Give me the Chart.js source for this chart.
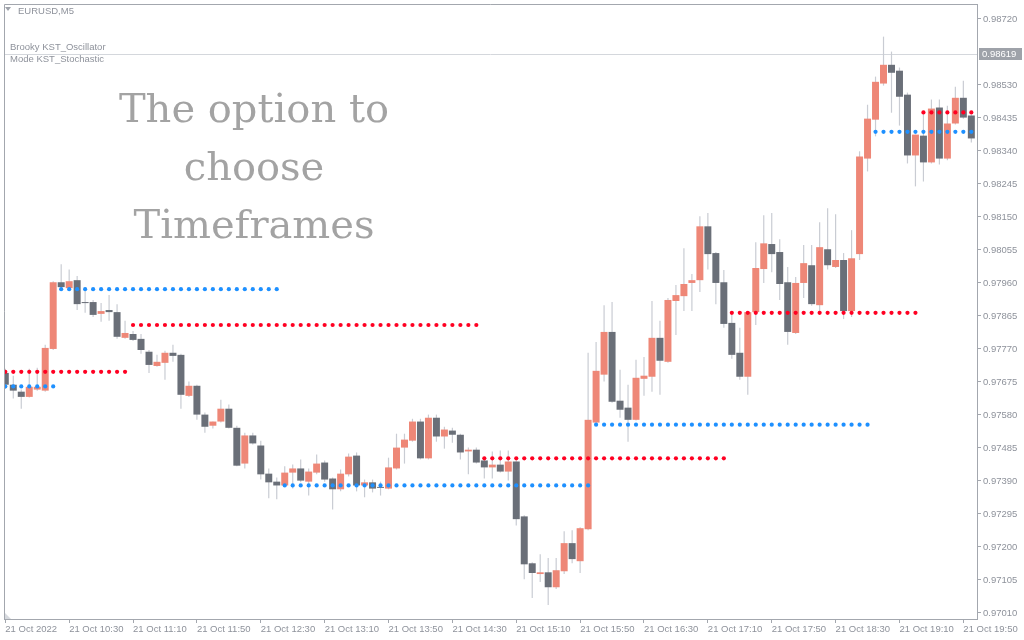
<!DOCTYPE html>
<html>
<head>
<meta charset="utf-8">
<title>EURUSD,M5</title>
<script src="https://cdn.jsdelivr.net/npm/chart.js@4.4.0/dist/chart.umd.min.js"></script>
<style>
  html, body { margin: 0; padding: 0; background: #ffffff; }
  #wrap { position: relative; width: 1024px; height: 640px; overflow: hidden; }
  #chart { position: absolute; left: 0; top: 0; }
  .lbl { position: absolute; font-family: "Liberation Sans", Arial, sans-serif; font-size: 9.5px; line-height: 11px; color: #8e929b; white-space: nowrap; }
  .tri { position: absolute; left: 5px; top: 7px; width: 0; height: 0; border-left: 3px solid transparent; border-right: 3px solid transparent; border-top: 4px solid #9ea2aa; }
  #headline { position: absolute; left: 54px; top: 79px; width: 400px; text-align: center; font-family: "DejaVu Serif", serif; font-size: 40px; line-height: 58px; color: #a3a3a3; }
</style>
</head>
<body>
<div id="wrap">
  <canvas id="chart" width="1024" height="640"></canvas>
  <div class="tri"></div>
  <div class="lbl" style="left:18px;top:5px">EURUSD,M5</div>
  <div class="lbl" style="left:10px;top:41px">Brooky KST_Oscillator</div>
  <div class="lbl" style="left:10px;top:53px">Mode KST_Stochastic</div>
  <div id="headline">The option to<br>choose<br>Timeframes</div>
</div>
<script>
// 5-minute candles, 21 Oct 09:50 .. 19:55
const openPrices = [
  0.97701, 0.97667, 0.97647, 0.97632, 0.97653, 0.97650, 0.97770, 0.97962, 0.97945, 0.97968,
  0.97905, 0.97905, 0.97871, 0.97882, 0.97876, 0.97802, 0.97813, 0.97799, 0.97762, 0.97721,
  0.97730, 0.97759, 0.97753, 0.97635, 0.97664, 0.97581, 0.97549, 0.97561, 0.97598, 0.97543,
  0.97440, 0.97521, 0.97492, 0.97411, 0.97388, 0.97377, 0.97414, 0.97426, 0.97388, 0.97414,
  0.97443, 0.97397, 0.97366, 0.97409, 0.97463, 0.97377, 0.97386, 0.97371, 0.97368, 0.97426,
  0.97486, 0.97506, 0.97561, 0.97455, 0.97572, 0.97518, 0.97535, 0.97523, 0.97475, 0.97480,
  0.97449, 0.97429, 0.97437, 0.97417, 0.97446, 0.97288, 0.97153, 0.97122, 0.97127, 0.97084,
  0.97130, 0.97211, 0.97159, 0.97251, 0.97558, 0.97696, 0.97819, 0.97621, 0.97601, 0.97566,
  0.97684, 0.97690, 0.97802, 0.97733, 0.97908, 0.97922, 0.97960, 0.97968, 0.98123, 0.98046,
  0.97962, 0.97845, 0.97759, 0.97690, 0.97876, 0.98000, 0.98072, 0.98049, 0.97962, 0.97816,
  0.97960, 0.98011, 0.97896, 0.98057, 0.98006, 0.98026, 0.97879, 0.98043, 0.98318, 0.98430,
  0.98534, 0.98588, 0.98571, 0.98502, 0.98327, 0.98384, 0.98307, 0.98465, 0.98318, 0.98419,
  0.98493, 0.98442
];
const highPrices = [
  0.97713, 0.97693, 0.97653, 0.97713, 0.97716, 0.97782, 0.97965, 0.98014, 0.97999, 0.97980,
  0.97948, 0.97911, 0.97902, 0.97925, 0.97899, 0.97851, 0.97822, 0.97813, 0.97767, 0.97753,
  0.97765, 0.97782, 0.97756, 0.97676, 0.97667, 0.97587, 0.97561, 0.97624, 0.97610, 0.97549,
  0.97529, 0.97529, 0.97506, 0.97426, 0.97400, 0.97432, 0.97437, 0.97452, 0.97426, 0.97466,
  0.97449, 0.97400, 0.97423, 0.97469, 0.97472, 0.97394, 0.97394, 0.97388, 0.97457, 0.97526,
  0.97526, 0.97569, 0.97569, 0.97581, 0.97581, 0.97546, 0.97543, 0.97526, 0.97486, 0.97486,
  0.97460, 0.97475, 0.97478, 0.97478, 0.97449, 0.97291, 0.97156, 0.97179, 0.97168, 0.97168,
  0.97245, 0.97248, 0.97257, 0.97759, 0.97790, 0.97896, 0.97905, 0.97710, 0.97667, 0.97739,
  0.97747, 0.97908, 0.97851, 0.97917, 0.97954, 0.98060, 0.97986, 0.98152, 0.98161, 0.98049,
  0.97997, 0.97874, 0.97831, 0.97876, 0.98077, 0.98155, 0.98161, 0.98086, 0.98006, 0.97977,
  0.98069, 0.98069, 0.98135, 0.98175, 0.98158, 0.98046, 0.98112, 0.98339, 0.98473, 0.98554,
  0.98669, 0.98626, 0.98580, 0.98508, 0.98387, 0.98453, 0.98488, 0.98488, 0.98470, 0.98525,
  0.98542, 0.98445
];
const lowPrices = [
  0.97655, 0.97627, 0.97598, 0.97630, 0.97650, 0.97647, 0.97767, 0.97937, 0.97937, 0.97882,
  0.97874, 0.97862, 0.97848, 0.97851, 0.97799, 0.97799, 0.97793, 0.97756, 0.97701, 0.97719,
  0.97681, 0.97733, 0.97598, 0.97632, 0.97566, 0.97529, 0.97541, 0.97558, 0.97541, 0.97432,
  0.97426, 0.97495, 0.97394, 0.97340, 0.97337, 0.97374, 0.97368, 0.97386, 0.97348, 0.97409,
  0.97388, 0.97308, 0.97360, 0.97403, 0.97360, 0.97343, 0.97357, 0.97348, 0.97366, 0.97423,
  0.97440, 0.97503, 0.97452, 0.97452, 0.97503, 0.97483, 0.97500, 0.97452, 0.97409, 0.97440,
  0.97397, 0.97397, 0.97414, 0.97391, 0.97262, 0.97107, 0.97053, 0.97099, 0.97033, 0.97079,
  0.97122, 0.97153, 0.97125, 0.97248, 0.97555, 0.97676, 0.97615, 0.97572, 0.97503, 0.97564,
  0.97635, 0.97647, 0.97638, 0.97730, 0.97810, 0.97879, 0.97879, 0.97934, 0.97999, 0.97899,
  0.97831, 0.97742, 0.97681, 0.97638, 0.97839, 0.97960, 0.97991, 0.97911, 0.97782, 0.97813,
  0.97917, 0.97894, 0.97879, 0.97999, 0.98003, 0.97856, 0.97862, 0.98026, 0.98281, 0.98382,
  0.98528, 0.98450, 0.98413, 0.98304, 0.98238, 0.98252, 0.98304, 0.98301, 0.98313, 0.98416,
  0.98433, 0.98364
];
const closePrices = [
  0.97667, 0.97650, 0.97632, 0.97661, 0.97661, 0.97773, 0.97962, 0.97948, 0.97965, 0.97899,
  0.97902, 0.97868, 0.97879, 0.97876, 0.97805, 0.97816, 0.97796, 0.97767, 0.97724, 0.97733,
  0.97759, 0.97750, 0.97638, 0.97664, 0.97581, 0.97546, 0.97561, 0.97598, 0.97543, 0.97434,
  0.97521, 0.97498, 0.97409, 0.97386, 0.97377, 0.97414, 0.97426, 0.97391, 0.97417, 0.97440,
  0.97394, 0.97366, 0.97411, 0.97460, 0.97377, 0.97386, 0.97368, 0.97370, 0.97429, 0.97486,
  0.97509, 0.97561, 0.97455, 0.97572, 0.97518, 0.97538, 0.97523, 0.97472, 0.97480, 0.97443,
  0.97429, 0.97437, 0.97417, 0.97446, 0.97280, 0.97150, 0.97125, 0.97127, 0.97084, 0.97133,
  0.97211, 0.97165, 0.97254, 0.97566, 0.97707, 0.97819, 0.97618, 0.97595, 0.97566, 0.97687,
  0.97693, 0.97802, 0.97736, 0.97911, 0.97925, 0.97957, 0.97968, 0.98123, 0.98043, 0.97960,
  0.97842, 0.97753, 0.97690, 0.97876, 0.98003, 0.98074, 0.98043, 0.97957, 0.97819, 0.97960,
  0.98017, 0.97899, 0.98063, 0.98011, 0.98026, 0.97879, 0.98031, 0.98324, 0.98433, 0.98539,
  0.98588, 0.98565, 0.98496, 0.98327, 0.98387, 0.98307, 0.98462, 0.98318, 0.98419, 0.98493,
  0.98436, 0.98376
];

// indicator levels: [first candle, last candle, price]
const redLevels = [[0, 15, 0.97704], [16, 59, 0.97839], [60, 90, 0.97455], [91, 114, 0.97874], [115, 121, 0.98451]];
const blueLevels = [[0, 6, 0.97662], [7, 34, 0.97942], [35, 73, 0.97377], [74, 108, 0.97552], [109, 121, 0.98395]];

const bidPrice = 0.98619;

// axis labels
const xTickLabels = ['21 Oct 2022', '21 Oct 10:30', '21 Oct 11:10', '21 Oct 11:50', '21 Oct 12:30', '21 Oct 13:10',
  '21 Oct 13:50', '21 Oct 14:30', '21 Oct 15:10', '21 Oct 15:50', '21 Oct 16:30', '21 Oct 17:10',
  '21 Oct 17:50', '21 Oct 18:30', '21 Oct 19:10', '21 Oct 19:50'];
const xTickStep = 8; // candles between time labels
const yTickValues = [0.98720, 0.98530, 0.98435, 0.98340, 0.98245, 0.98150, 0.98055, 0.97960, 0.97865,
  0.97770, 0.97675, 0.97580, 0.97485, 0.97390, 0.97295, 0.97200, 0.97105, 0.97010];

const bullColor = '#ee8777';
const bearColor = '#6a6f78';
const wickColor = '#c9ccd3';
const axisColor = '#a3a7ae';
const textColor = '#8e929b';

// build chart data from the arrays above
const wickData = highPrices.map((h, i) => ({ x: i, y: [lowPrices[i], h] }));
const bodyData = openPrices.map((o, i) => ({ x: i, y: [o, closePrices[i]] }));
const bodyColors = openPrices.map((o, i) => closePrices[i] >= o ? bullColor : bearColor);

function levelPoints(levels) {
    const pts = [];
    levels.forEach(([from, to, price]) => {
        for (let k = from; k <= to; k++) pts.push({ x: k, y: price });
    });
    return pts;
}

// frame, bid line and price box
const framePlugin = {
    id: 'frame',
    beforeDatasetsDraw(chart) {
        const { ctx, chartArea: a, scales: { y } } = chart;
        const by = Math.round(y.getPixelForValue(bidPrice)) + 0.5;
        ctx.save();
        ctx.strokeStyle = '#d4d7dc';
        ctx.lineWidth = 1;
        ctx.beginPath();
        ctx.moveTo(a.left, by);
        ctx.lineTo(a.right, by);
        ctx.stroke();
        ctx.restore();
    },
    afterDraw(chart) {
        const { ctx, chartArea: a, scales: { y } } = chart;
        ctx.save();
        ctx.strokeStyle = axisColor;
        ctx.lineWidth = 1;
        ctx.beginPath();
        ctx.moveTo(a.left + 0.5, a.bottom);
        ctx.lineTo(a.left + 0.5, a.top + 0.5);
        ctx.lineTo(a.right, a.top + 0.5);
        ctx.stroke();
        // autoscroll marker in the corner
        ctx.fillStyle = '#d6d9de';
        ctx.beginPath();
        ctx.moveTo(a.left + 1, a.bottom - 6);
        ctx.lineTo(a.left + 7, a.bottom);
        ctx.lineTo(a.left + 1, a.bottom);
        ctx.fill();
        // price box
        const by = Math.round(y.getPixelForValue(bidPrice));
        ctx.fillStyle = '#9ea2a9';
        ctx.fillRect(a.right + 2, by - 6, 43, 12);
        ctx.fillStyle = '#ffffff';
        ctx.font = '9.5px "Liberation Sans", Arial, sans-serif';
        ctx.textBaseline = 'middle';
        ctx.fillText(bidPrice.toFixed(5), a.right + 5, by + 0.5);
        ctx.restore();
    }
};

Chart.defaults.font.family = '"Liberation Sans", Arial, sans-serif';
Chart.defaults.font.size = 9.5;
Chart.defaults.color = textColor;

new Chart(document.getElementById('chart'), {
    type: 'bar',
    data: {
        datasets: [
            {
                label: 'wicks',
                data: wickData,
                backgroundColor: wickColor,
                grouped: false,
                categoryPercentage: 1,
                barPercentage: 0.15,
                order: 3
            },
            {
                label: 'bodies',
                data: bodyData,
                backgroundColor: bodyColors,
                grouped: false,
                categoryPercentage: 1,
                barPercentage: 0.875,
                minBarLength: 1,
                order: 2
            },
            {
                type: 'line',
                label: 'blue levels',
                data: levelPoints(blueLevels),
                showLine: false,
                pointRadius: 2.1,
                pointBorderWidth: 0,
                pointBackgroundColor: '#1e90ff',
                order: 1
            },
            {
                type: 'line',
                label: 'red levels',
                data: levelPoints(redLevels),
                showLine: false,
                pointRadius: 2.1,
                pointBorderWidth: 0,
                pointBackgroundColor: '#ff0022',
                order: 0
            }
        ]
    },
    options: {
        responsive: false,
        animation: false,
        events: [],
        layout: { padding: { left: 2, top: 2, right: 0, bottom: 0 } },
        plugins: {
            legend: { display: false },
            tooltip: { enabled: false }
        },
        scales: {
            x: {
                type: 'linear',
                offset: false,
                min: -0.1625,
                max: 121.71,
                afterBuildTicks: (axis) => {
                    axis.ticks = xTickLabels.map((t, i) => ({ value: i * xTickStep }));
                },
                afterFit: (axis) => {
                    axis.height = 21;
                    axis.paddingLeft = 0;
                    axis.paddingRight = 0;
                },
                ticks: {
                    autoSkip: false,
                    maxRotation: 0,
                    align: 'start',
                    padding: 1,
                    color: textColor,
                    callback: (value, index) => xTickLabels[index]
                },
                grid: { drawOnChartArea: false, tickLength: 4, color: axisColor, offset: false },
                border: { color: axisColor }
            },
            y: {
                position: 'right',
                min: 0.969926,
                max: 0.98763,
                afterBuildTicks: (axis) => {
                    axis.ticks = yTickValues.map(v => ({ value: v }));
                },
                afterFit: (axis) => {
                    axis.width = 47;
                    axis.paddingTop = 0;
                    axis.paddingBottom = 0;
                },
                ticks: {
                    padding: 2,
                    color: textColor,
                    callback: (value) => value.toFixed(5)
                },
                grid: { drawOnChartArea: false, tickLength: 4, color: axisColor },
                border: { color: axisColor }
            }
        }
    },
    plugins: [framePlugin]
});
</script>
</body>
</html>
